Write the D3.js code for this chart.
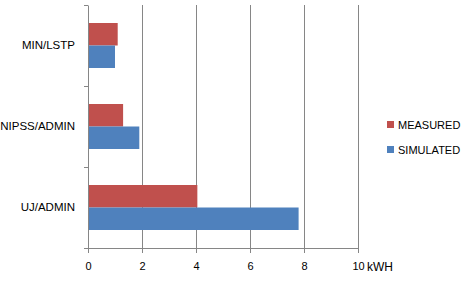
<!DOCTYPE html>
<html><head><meta charset="utf-8">
<script src="https://cdn.jsdelivr.net/npm/d3@7"></script>
<style>body{margin:0;background:#fff;}svg{display:block;font-family:"Liberation Sans",Arial,sans-serif;}</style>
</head><body><svg id="c" width="474" height="283"></svg>
<script>
const categories = ["MIN/LSTP", "NIPSS/ADMIN", "UJ/ADMIN"];
const seriesNames = ["MEASURED", "SIMULATED"];
const measured = [1.1, 1.3, 4.05];
const simulated = [1.0, 1.9, 7.8];
const xTicks = [0, 2, 4, 6, 8, 10];
const colors = {MEASURED: "#C0504D", SIMULATED: "#4F81BD"};

(function(){
const svg = d3.select("#c");
const mL = 88, mR = 358, mT = 5, mB = 248;
const x = d3.scaleLinear().domain([0, 10]).range([mL, mR]);
const y = d3.scaleBand().domain(categories).range([mT, mB]);
const inner = d3.scaleBand().domain(seriesNames).range([0, y.bandwidth()]).paddingOuter(0.8).paddingInner(0);

// gridlines
svg.append("g").selectAll("line").data(xTicks.slice(1)).join("line")
  .attr("x1", d => x(d)).attr("x2", d => x(d)).attr("y1", mT).attr("y2", mB)
  .attr("stroke", "#868686").attr("stroke-width", 1).attr("shape-rendering","crispEdges");

// bars
const data = categories.map((c, i) => ({c, vals: [{s: "MEASURED", v: measured[i]}, {s: "SIMULATED", v: simulated[i]}]}));
const g = svg.append("g");
data.forEach(d => {
  g.selectAll(null).data(d.vals).join("rect")
    .attr("x", x(0)).attr("y", v => y(d.c) + inner(v.s))
    .attr("width", v => x(v.v) - x(0)).attr("height", inner.bandwidth())
    .attr("fill", v => colors[v.s]);
});

// x axis
const xAxis = d3.axisBottom(x).tickValues(xTicks).tickSize(5).tickPadding(9).tickFormat(d3.format("d"));
const gx = svg.append("g").attr("transform", `translate(0,${mB})`).call(xAxis);
gx.select(".domain").attr("stroke", "#868686");
gx.selectAll(".tick line").attr("stroke", "#868686");
gx.selectAll("text").attr("font-size", 11).attr("fill", "#000");

// y axis
const yAxis = d3.axisLeft(y).tickSize(0).tickPadding(13);
const gy = svg.append("g").attr("transform", `translate(${mL},0)`).call(yAxis);
gy.select(".domain").attr("stroke", "#868686");
gy.selectAll("text").attr("font-size", 11.5).attr("fill", "#000");
const bounds = [mT].concat(categories.map(c => y(c) + y.bandwidth()));
svg.append("g").selectAll("line").data(bounds).join("line")
  .attr("x1", mL - 4).attr("x2", mL).attr("y1", d => d).attr("y2", d => d)
  .attr("stroke", "#868686").attr("shape-rendering","crispEdges");

// unit label
svg.append("text").attr("x", x(10) + 9).attr("y", mB + 23).attr("font-size", 12).attr("fill", "#000").text("kWH");

// legend
const lg = svg.append("g").attr("transform", "translate(387,121)");
seriesNames.forEach((s, i) => {
  lg.append("rect").attr("x", 0).attr("y", i * 25).attr("width", 7).attr("height", 7).attr("fill", colors[s]);
  lg.append("text").attr("x", 11).attr("y", i * 25 + 8).attr("font-size", 11).attr("fill", "#000").text(s);
});
})();
</script></body></html>
